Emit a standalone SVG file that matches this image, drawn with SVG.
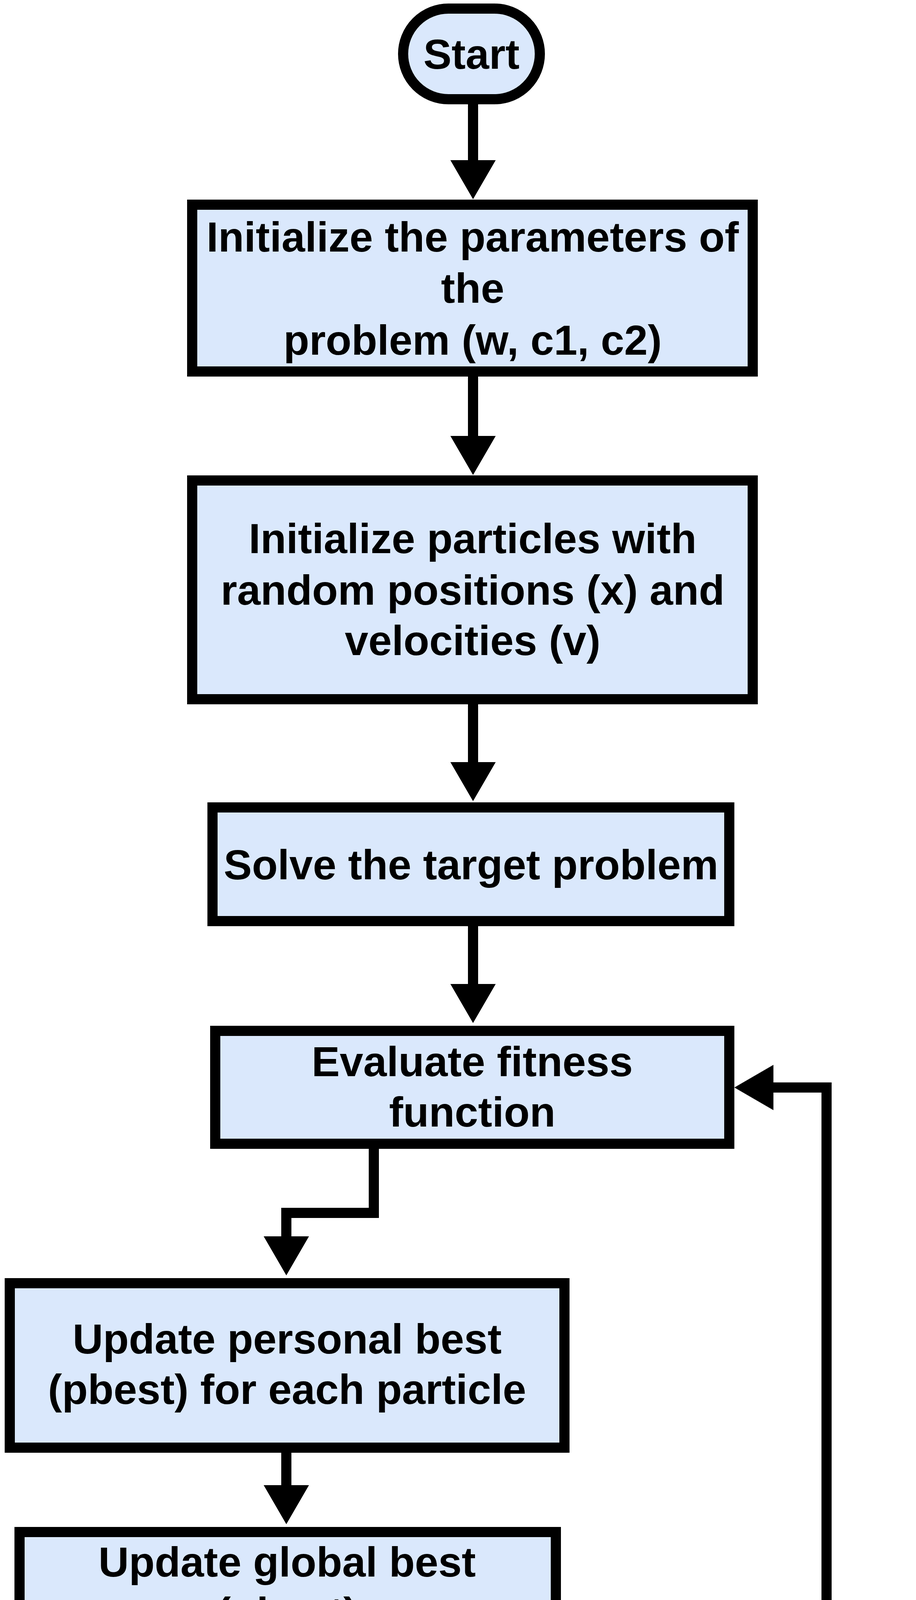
<svg xmlns="http://www.w3.org/2000/svg" width="2345" height="7932" viewBox="0 0 2345 7932">
<style>
.n{fill:#dae8fc;stroke:#000;stroke-width:26}
.t{font-family:"Liberation Sans",Arial,sans-serif;font-weight:bold;font-size:108px;text-anchor:middle;fill:#000}
.c{fill:none;stroke:#000;stroke-width:26}
</style>
<defs><marker id="a" markerUnits="userSpaceOnUse" markerWidth="120" markerHeight="120" refX="0" refY="58" orient="auto"><path d="M0,0 L100,58 L0,116 Z" fill="#000"/></marker></defs>
<rect width="2345" height="7932" fill="#fff"/>
<g id="connectors">
<path class="c" d="M1211,258 V410" marker-end="url(#a)"/>
<path class="c" d="M1211,964 V1116" marker-end="url(#a)"/>
<path class="c" d="M1211,1803 V1951" marker-end="url(#a)"/>
<path class="c" d="M1211,2371 V2519" marker-end="url(#a)"/>
<path class="c" d="M957,2941 V3105 H733 V3165" marker-end="url(#a)"/>
<path class="c" d="M733,3719 V3802" marker-end="url(#a)"/>
<path class="c" d="M733,4219 V4379" marker-end="url(#a)"/>
<path class="c" d="M733,4916 V5049 H182 V5953 H336" marker-end="url(#a)"/>
<path class="c" d="M1974,5953 H2168 V4193 H2116 V2784 H1980" marker-end="url(#a)"/>
<path class="c" d="M1211,6716 V7001" marker-end="url(#a)"/>
<path class="c" d="M1211,7421 V7576" marker-end="url(#a)"/>
<text class="t" x="332" y="5433">Yes</text>
<text class="t" x="1005" y="7015">Yes</text>
<text class="t" x="2262" y="4756">No</text>
</g>
<g id="start"><rect class="n" x="1032" y="22" width="350" height="232" rx="116"/><text class="t" x="1207" y="176">Start</text></g>
<g id="init-params"><rect class="n" x="492" y="524" width="1435" height="427"/><text class="t" x="1210" y="644">Initialize the parameters of</text><text class="t" x="1210" y="775">the</text><text class="t" x="1210" y="908">problem (w, c1, c2)</text></g>
<g id="init-particles"><rect class="n" x="492" y="1230" width="1435" height="560"/><text class="t" x="1210" y="1416">Initialize particles with</text><text class="t" x="1210" y="1548">random positions (x) and</text><text class="t" x="1210" y="1677">velocities (v)</text></g>
<g id="solve"><rect class="n" x="544" y="2067" width="1323" height="291"/><text class="t" x="1206" y="2251">Solve the target problem</text></g>
<g id="evaluate"><rect class="n" x="551" y="2639" width="1316" height="289"/><text class="t" x="1209" y="2755">Evaluate fitness</text><text class="t" x="1209" y="2884">function</text></g>
<g id="pbest"><rect class="n" x="25" y="3285" width="1420" height="421"/><text class="t" x="735" y="3465">Update personal best</text><text class="t" x="735" y="3594">(pbest) for each particle</text></g>
<g id="gbest"><rect class="n" x="50" y="3922" width="1373" height="284"/><text class="t" x="735" y="4036">Update global best</text><text class="t" x="735" y="4165">(gbest)</text></g>
<g id="update"><rect class="n" x="28" y="4493" width="1417" height="410"/><text class="t" x="735" y="4670">Update position and</text><text class="t" x="735" y="4799">velocity</text></g>
<g id="decision"><polygon class="n" points="1208,5185 1974,5953 1208,6716 434,5953"/><text class="t" x="1205" y="5926">Is the stopping condition</text><text class="t" x="1205" y="6057">satisfied?</text></g>
<g id="result"><rect class="n" x="507" y="7121" width="1394" height="287"/><text class="t" x="1204" y="7238">Gbest and optimal</text><text class="t" x="1204" y="7367">solution</text></g>
<g id="stop"><rect class="n" x="1045" y="7690" width="328" height="228" rx="114"/><text class="t" x="1209" y="7842">Stop</text></g>
</svg>
